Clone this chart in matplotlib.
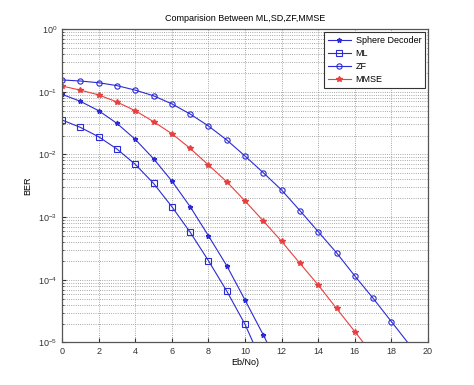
import matplotlib
matplotlib.use('Agg')
import matplotlib.pyplot as plt
import numpy as np

# Eb/No (dB) e valores de BER
snr_sd = [0, 1, 2, 3, 4, 5, 6, 7, 8, 9, 10, 11, 12]
ber_sd = [0.0908, 0.0703, 0.0498, 0.0313, 0.0174, 0.00855, 0.00377, 0.00147,
          0.000505, 0.000168, 4.76e-5, 1.32e-5, 3.4e-6]

snr_ml = [0, 1, 2, 3, 4, 5, 6, 7, 8, 9, 10, 11]
ber_ml = [0.0354, 0.0270, 0.0191, 0.0122, 0.00695, 0.00346, 0.00147, 0.000575,
          0.000202, 6.63e-5, 1.95e-5, 4.3e-6]

snr_zf = list(range(0, 20))
ber_zf = [0.154, 0.148, 0.139, 0.125, 0.106, 0.086, 0.064, 0.0441, 0.0284, 0.0170,
          0.00942, 0.0051, 0.0027, 0.00127, 0.000585, 0.00027, 0.000115, 5.07e-5,
          2.15e-5, 9.1e-6]

snr_mmse = list(range(0, 18))
ber_mmse = [0.123, 0.106, 0.089, 0.0685, 0.0498, 0.0333, 0.0214, 0.0125, 0.00678,
            0.00367, 0.00181, 0.000867, 0.00041, 0.000183, 8.26e-5, 3.5e-5,
            1.49e-5, 6.3e-6]

plt.rcParams['font.family'] = ['Liberation Sans', 'DejaVu Sans']
plt.rcParams['font.size'] = 6.5

fig = plt.figure(figsize=(4.74, 3.85), dpi=100)
ax = fig.add_axes([0.1308, 0.1104, 0.7722, 0.8143])

azul = '#2b2bd6'
verm = '#e8403f'
ax.semilogy(snr_sd, ber_sd, '-*', color=azul, lw=0.8, ms=3.5, label='Sphere Decoder')
ax.semilogy(snr_ml, ber_ml, '-s', color=azul, lw=0.8, ms=3.8, mfc='none', mew=0.8, label='ML')
ax.semilogy(snr_zf, ber_zf, '-o', color=azul, lw=0.8, ms=3.8, mfc='none', mew=0.8, label='ZF')
ax.semilogy(snr_mmse, ber_mmse, '-*', color=verm, lw=0.8, ms=4, label='MMSE')

ax.set_xlim(0, 20)
ax.set_ylim(1e-5, 1)
ax.set_xticks(np.arange(0, 21, 2))

ax.grid(True, which='major', linestyle=':', color='#8a8a8a', lw=0.6)
ax.grid(True, which='minor', axis='y', linestyle=':', color='#8a8a8a', lw=0.6)

for s in ax.spines.values():
    s.set_color('#555555')
    s.set_linewidth(0.9)
ax.tick_params(which='both', direction='in', colors='#333333', labelsize=6.5, length=3)
ax.tick_params(which='minor', length=1.5)
ax.tick_params(axis='x', pad=3)

ax.set_title('Comparision Between ML,SD,ZF,MMSE', fontsize=6.5, pad=6)
ax.set_xlabel('Eb/No)', fontsize=6.5, labelpad=2)
ax.set_ylabel('BER', fontsize=6.5, labelpad=4)

leg = ax.legend(loc='upper right', fontsize=6.5, fancybox=False, framealpha=1,
                edgecolor='#333333', borderaxespad=0.3, handlelength=2.6,
                handletextpad=0.5, labelspacing=0.45, borderpad=0.45)
leg.get_frame().set_linewidth(0.8)

fig.savefig('out.png', dpi=100)
